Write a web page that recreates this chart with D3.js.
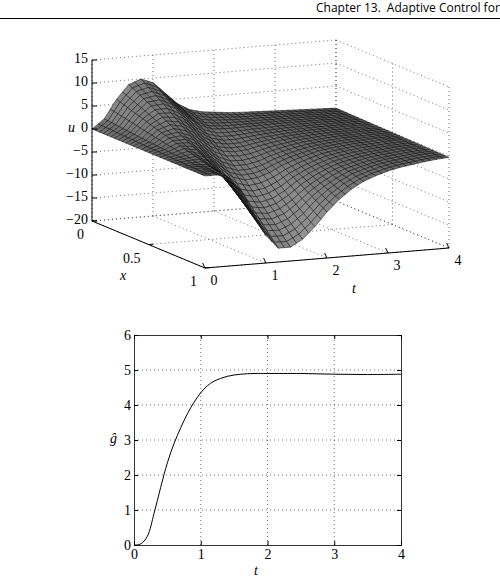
<!DOCTYPE html>
<html><head><meta charset="utf-8">
<script src="https://cdn.jsdelivr.net/npm/d3@7"></script>
<style>body{margin:0;background:#fff}</style>
</head><body><div id="chart"></div>
<script>
// surface u(x,t): rows are x values, columns are t values
const tGrid = [0,0.2,0.4,0.6,0.8,1,1.2,1.4,1.6,1.8,2,2.2,2.4,2.6,2.8,3,3.2,3.4,3.6,3.8,4];
const xGrid = [0,0.2,0.4,0.6,0.8,1];
const uGrid = [
  [0,2,6,9,10,9,6.5,4,2.5,1.8,1.5,1.2,1,0.9,0.8,0.7,0.6,0.5,0.4,0.3,0.2],
  [0,1.5,4.4,6.4,6.6,5.4,3.2,1.3,0.3,0.1,0.1,0.2,0.2,0.3,0.3,0.3,0.3,0.3,0.2,0.2,0.1],
  [0,1,2.8,3.5,2.8,1,-1,-2.3,-2.6,-2.4,-1.8,-1.3,-0.9,-0.6,-0.4,-0.2,-0.1,-0.1,0,0,0],
  [0,0.6,1.4,0.9,-1.1,-3.6,-5.7,-6.5,-6.2,-5.3,-4,-3,-2.2,-1.5,-1.1,-0.8,-0.5,-0.4,-0.2,-0.1,-0.1],
  [0,0.2,0,-1.8,-5.3,-9,-11.4,-11.7,-10.9,-9.2,-7,-5.3,-3.9,-2.8,-2.1,-1.5,-1.1,-0.8,-0.5,-0.3,-0.2],
  [0,0,-1,-4,-9,-14,-17,-17,-15.5,-13,-10,-7.5,-5.5,-4,-3,-2.2,-1.6,-1.2,-0.8,-0.5,-0.3]
];
const uTicks = [15,10,5,0,-5,-10,-15,-20];
const xTicks = [0,0.5,1];
const tTicks = [0,1,2,3,4];

// estimate of g-hat over time
const gT = [0,0.1,0.2,0.3,0.4,0.5,0.6,0.7,0.8,0.9,1,1.1,1.2,1.4,1.6,1.8,2,2.5,3,3.5,4];
const gV = [0,0.03,0.25,0.9,1.65,2.35,2.9,3.35,3.75,4.08,4.35,4.55,4.68,4.82,4.88,4.9,4.9,4.9,4.88,4.87,4.88];

const W = 500, H = 580;
const serif = "'Liberation Serif',serif";
const svg = d3.select("#chart").append("svg").attr("width", W).attr("height", H);
const label = (x, y, s, anchor, italic) => svg.append("text").attr("x", x).attr("y", y)
  .attr("text-anchor", anchor || "start").style("font-family", serif).style("font-size", "14px")
  .style("font-style", italic ? "italic" : "normal").text(s);

// header
svg.append("line").attr("x1", 0).attr("x2", W).attr("y1", 18.5).attr("y2", 18.5).attr("stroke", "#000").attr("stroke-width", 1);
svg.append("text").attr("x", 316).attr("y", 12).style("font-family", "'Open Sans',sans-serif").style("font-size", "12px")
  .text("Chapter 13.\u2002Adaptive Control for");

// ---- 3D projection ----
const ts = d3.scaleLinear().domain([0, 4]).range([0, 244]);
const zs = d3.scaleLinear().domain([-20, 15]).range([0, 161]);
function P(t, x, z) {
  const a = ts(t), c = zs(z);
  return [92 + a + 113 * x, 221 - a * 5 / 61 + 47 * x - c];
}
const dots = "1,3";
const grid = svg.append("g").attr("fill", "none").attr("stroke", "#333").attr("stroke-width", 0.7).attr("stroke-dasharray", dots);
const seg = (p, q) => grid.append("line").attr("x1", p[0]).attr("y1", p[1]).attr("x2", q[0]).attr("y2", q[1]);
tTicks.forEach(t => seg(P(t, 0, -20), P(t, 0, 15)));
uTicks.forEach(z => seg(P(0, 0, z), P(4, 0, z)));
xTicks.forEach(x => seg(P(4, x, -20), P(4, x, 15)));
uTicks.forEach(z => seg(P(4, 0, z), P(4, 1, z)));
tTicks.forEach(t => seg(P(t, 0, -20), P(t, 1, -20)));
xTicks.forEach(x => seg(P(0, x, -20), P(4, x, -20)));

// surface quads (bilinear subdivision for the mesh)
const SX = 6, ST = 2;
const uAt = (i, fi, j, fj) => {
  const i2 = Math.min(i + 1, xGrid.length - 1), j2 = Math.min(j + 1, tGrid.length - 1);
  const a = uGrid[i][j], b = uGrid[i][j2], c = uGrid[i2][j], d = uGrid[i2][j2];
  return (a * (1 - fj) + b * fj) * (1 - fi) + (c * (1 - fj) + d * fj) * fi;
};
const pts = [];
const nx = (xGrid.length - 1) * SX, nt = (tGrid.length - 1) * ST;
for (let i = 0; i <= nx; i++) {
  const row = [];
  const ci = Math.min(Math.floor(i / SX), xGrid.length - 2), fi = i / SX - ci;
  for (let j = 0; j <= nt; j++) {
    const cj = Math.min(Math.floor(j / ST), tGrid.length - 2), fj = j / ST - cj;
    const x = xGrid[ci] + (xGrid[ci + 1] - xGrid[ci]) * fi;
    const t = tGrid[cj] + (tGrid[cj + 1] - tGrid[cj]) * fj;
    row.push({ t, x, z: uAt(ci, fi, cj, fj) });
  }
  pts.push(row);
}
const quads = [];
for (let i = 0; i < nx; i++) for (let j = 0; j < nt; j++) {
  const q = [pts[i][j], pts[i][j + 1], pts[i + 1][j + 1], pts[i + 1][j]];
  const t = d3.mean(q, p => p.t), x = d3.mean(q, p => p.x);
  const dzdt = (q[1].z + q[2].z - q[0].z - q[3].z) / 2 / (q[1].t - q[0].t);
  const dzdx = (q[2].z + q[3].z - q[0].z - q[1].z) / 2 / (q[3].x - q[0].x);
  const light = 0.3 + 0.006 * dzdt - 0.005 * dzdx;
  quads.push({ q, depth: t / 4 - x * 1.2, light: Math.max(0.2, Math.min(0.62, light)) });
}
quads.sort((a, b) => b.depth - a.depth);
svg.append("g").selectAll("path").data(quads).join("path")
  .attr("d", d => "M" + d.q.map(p => P(p.t, p.x, p.z).join(",")).join("L") + "Z")
  .attr("fill", d => d3.interpolateGreys(1 - d.light))
  .attr("stroke", "#000").attr("stroke-width", 0.45);

// axes lines
const ax = svg.append("g").attr("stroke", "#000").attr("stroke-width", 1).attr("fill", "none");
const aline = (p, q) => ax.append("line").attr("x1", p[0]).attr("y1", p[1]).attr("x2", q[0]).attr("y2", q[1]);
aline(P(0, 0, -20), P(0, 0, 15));
aline(P(0, 0, -20), P(0, 1, -20));
aline(P(0, 1, -20), P(4, 1, -20));
uTicks.forEach(z => { const p = P(0, 0, z); aline(p, [p[0] + 5, p[1]]);
  label(p[0] - 4, p[1] + 3, z < 0 ? "\u2212" + (-z) : z, "end"); });
xTicks.forEach(x => { const p = P(0, x, -20); aline(p, [p[0] + 5, p[1] - 0.4]);
  label(p[0] - 8, p[1] + 18, x, "end"); });
tTicks.forEach(t => { const p = P(t, 1, -20); aline(p, [p[0] - 2.4, p[1] - 5]);
  label(p[0] + 9, p[1] + 17, t, "middle"); });
label(68, 132, "u", "start", true);
label(120, 280, "x", "start", true);
label(352, 293, "t", "start", true);

// ---- 2D plot ----
const X = d3.scaleLinear().domain([0, 4]).range([134, 401]);
const Y = d3.scaleLinear().domain([0, 6]).range([545, 335]);
const g2 = svg.append("g");
g2.append("g").selectAll("line").data([1, 2, 3]).join("line")
  .attr("x1", d => X(d)).attr("x2", d => X(d)).attr("y1", Y(0)).attr("y2", Y(6))
  .attr("stroke", "#333").attr("stroke-width", 0.7).attr("stroke-dasharray", dots);
g2.append("g").selectAll("line").data([1, 2, 3, 4, 5]).join("line")
  .attr("y1", d => Y(d)).attr("y2", d => Y(d)).attr("x1", X(0)).attr("x2", X(4))
  .attr("stroke", "#333").attr("stroke-width", 0.7).attr("stroke-dasharray", dots);
g2.append("g").attr("transform", `translate(0,${Y(0)})`)
  .call(d3.axisBottom(X).ticks(4).tickSize(-4).tickPadding(4).tickFormat(d3.format("d")));
g2.append("g").attr("transform", `translate(0,${Y(6)})`)
  .call(d3.axisTop(X).ticks(4).tickSize(-4).tickFormat(""));
g2.append("g").attr("transform", `translate(${X(0)},0)`)
  .call(d3.axisLeft(Y).ticks(6).tickSize(-4).tickPadding(3).tickFormat(d3.format("d")));
g2.append("g").attr("transform", `translate(${X(4)},0)`)
  .call(d3.axisRight(Y).ticks(6).tickSize(-4).tickFormat(""));
g2.selectAll(".domain").attr("stroke", "#000").attr("stroke-width", 0.8);
g2.selectAll(".tick text").style("font-family", serif).style("font-size", "14px");
g2.append("path").datum(gT.map((t, i) => [t, gV[i]]))
  .attr("d", d3.line().x(d => X(d[0])).y(d => Y(d[1])).curve(d3.curveCatmullRom))
  .attr("fill", "none").attr("stroke", "#000").attr("stroke-width", 1);
label(110, 443, "\u011D", "start", true);
label(254, 575, "t", "start", true);
</script></body></html>
